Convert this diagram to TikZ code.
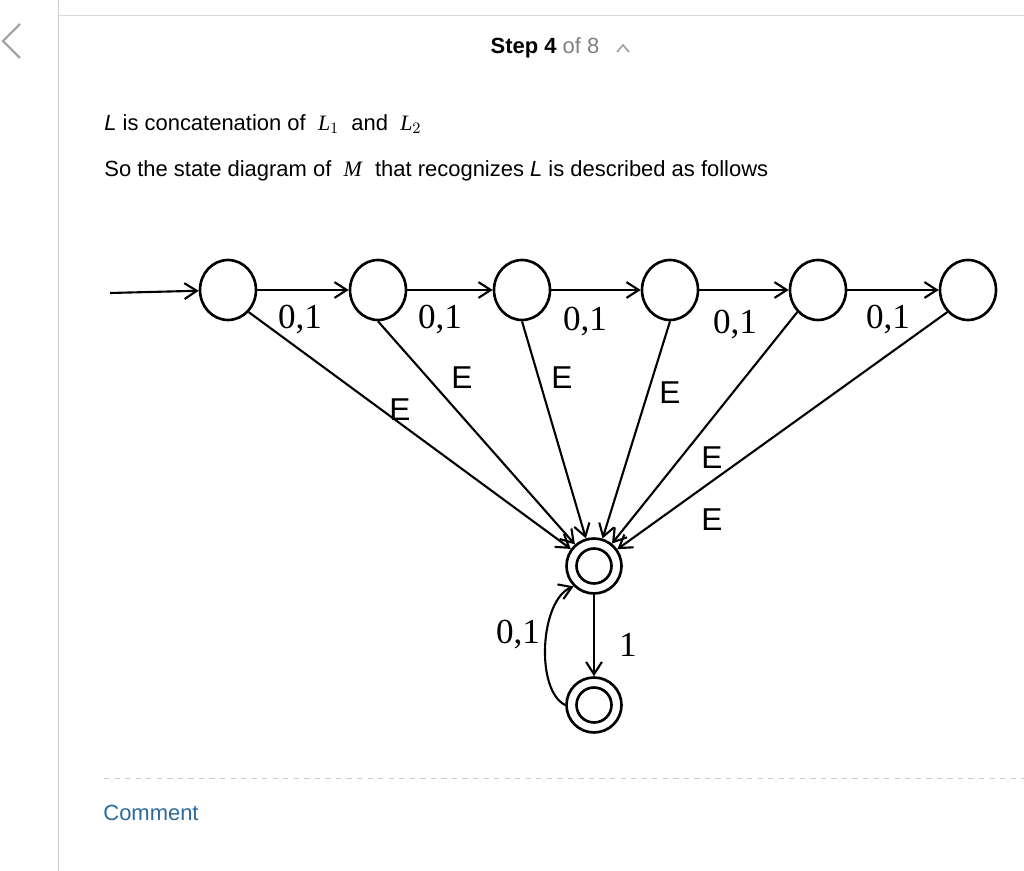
\documentclass[tikz,border=0pt]{standalone}
\usepackage{fontspec}
\setmainfont{Liberation Sans}
\newfontfamily\tms{Liberation Serif}
\usetikzlibrary{arrows.meta,shapes.geometric}
\begin{document}
\begin{tikzpicture}[x=0.02cm,y=-0.02cm,
  st/.style={draw,line width=1.5pt,ellipse,minimum width=1.12cm,minimum height=1.2cm,inner sep=0pt},
  acc/.style={draw,line width=1.5pt,circle,minimum size=1.1cm,inner sep=0pt},
  inn/.style={draw,line width=1.5pt,circle,minimum size=0.7cm,inner sep=0pt},
  ar/.style={-{Straight Barb[length=7pt,width=9pt]},line width=1.2pt},
  lab/.style={font=\tms\fontsize{20}{22}\selectfont},
  el/.style={font=\fontsize{18}{20}\selectfont},
  txt/.style={font=\fontsize{12.5}{15}\selectfont,inner sep=0pt}]
\useasboundingbox (0,0) rectangle (1024,871);
\draw[gray!40] (58,0) -- (58,871);
\draw[gray!30] (58,15) -- (1024,15);
\draw[gray!70,line width=1.3pt] (20,24) -- (3,41) -- (20,58);
\node[txt] (step) at (545,48) {\textbf{Step 4} \textcolor{gray}{of 8}};
\draw[gray!70,line width=1pt] (617,52) -- (623,45) -- (629,52);
\node[txt,anchor=west] (t1) at (104,124) {\textit{L} is concatenation of \ {\tms\textit{L}$_1$} \ and \ {\tms\textit{L}$_2$}};
\node[txt,anchor=west] (t2) at (104,171) {So the state diagram of \ {\tms\textit{M}} \ that recognizes \textit{L} is described as follows};
\node[st] (q1) at (228,290) {};
\node[st] (q2) at (378,290) {};
\node[st] (q3) at (522,290) {};
\node[st] (q4) at (670,290) {};
\node[st] (q5) at (818,290) {};
\node[st] (q6) at (968,290) {};
\node[acc] (f) at (594,566) {};
\node[inn] (fi) at (594,566) {};
\node[acc] (g) at (594,705) {};
\node[inn] (gi) at (594,705) {};
\coordinate (s) at (110,293);
\draw[ar] (s) -- (q1);
\draw[ar] (q1) -- (q2); \draw[ar] (q2) -- (q3); \draw[ar] (q3) -- (q4);
\draw[ar] (q4) -- (q5); \draw[ar] (q5) -- (q6);
\foreach \x/\y in {300/320,440/320,585/322,735/325,888/320}
  \node[lab] at (\x,\y) {0,1};
\draw[ar] (q1.south east) -- (f);
\draw[ar] (q2.south) -- (f);
\draw[ar] (q3.south) -- (f);
\draw[ar] (q4.south) -- (f);
\draw[ar] (q5.south west) -- (f);
\draw[ar] (q6.south west) -- (f);
\foreach \x/\y in {400/410,462/378,562/378,670/393,712/458,712/520}
  \node[el] at (\x,\y) {E};
\draw[ar] (f) -- (g);
\draw[ar] (g.west) .. controls (535,690) and (540,600) .. (f.south west);
\node[lab] at (518,635) {0,1};
\node[lab] at (628,645) {1};
\draw[gray!40,dashed] (104,778) -- (1024,778);
\node[txt] (c) at (151,813) {\textcolor[HTML]{2B6A9B}{Comment}};
\end{tikzpicture}
\end{document}
